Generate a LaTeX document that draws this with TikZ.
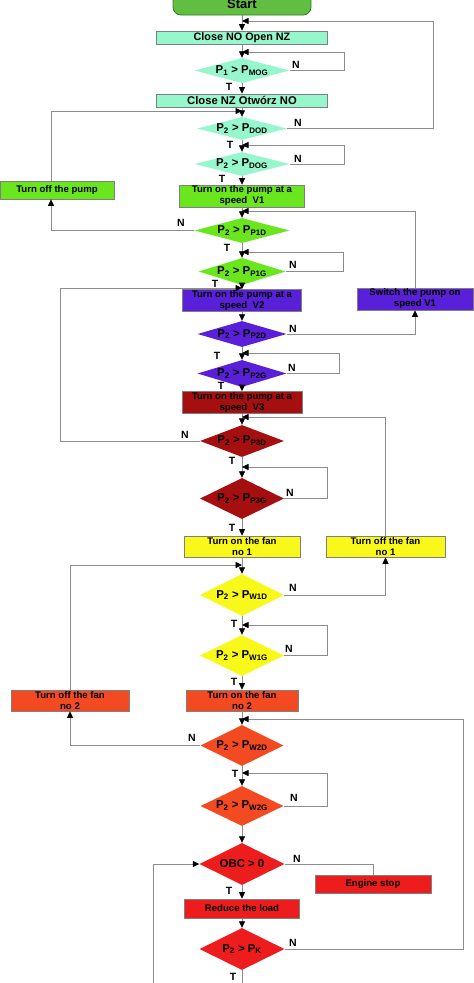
\documentclass[tikz,border=0pt]{standalone}
\usepackage{fontspec}
\setmainfont{Liberation Sans}
\usepackage{xcolor}
\usepackage{tikz}
\usetikzlibrary{arrows.meta,shapes.geometric}
\definecolor{fcAqua}{HTML}{96F7CD}
\definecolor{fcStart}{HTML}{62BE43}
\definecolor{fcStartEdge}{HTML}{2F7F20}
\definecolor{fcLime}{HTML}{6AE61E}
\definecolor{fcViolet}{HTML}{5A1FD8}
\definecolor{fcBrick}{HTML}{A50F0F}
\definecolor{fcYellow}{HTML}{F8F81A}
\definecolor{fcOrange}{HTML}{F44A22}
\definecolor{fcRed}{HTML}{EE1D1D}
\definecolor{fcEdge}{HTML}{7F7F7F}
\definecolor{fcLine}{HTML}{8C8C8C}
\newcommand{\ptest}[1]{P\textsubscript{2} > P\textsubscript{#1}}
\tikzset{
  fc diagram/.style={x=1pt, y=-1pt, font=\bfseries\fontsize{10.8}{11}\selectfont},
  fc box/.style={draw=fcEdge, line width=0.6pt, inner sep=1pt, align=center},
  fc small/.style={font=\bfseries\fontsize{9.6}{11}\selectfont},
  fc test/.style={diamond, inner sep=0pt, font=\bfseries\fontsize{11.4}{12}\selectfont},
  fc flow/.style={draw=fcLine, line width=0.8pt,
    -{Triangle[length=6.5pt,width=6pt,color=black]}},
  fc line/.style={draw=fcLine, line width=0.8pt},
  fc label/.style={font=\bfseries\fontsize{10.5}{11}\selectfont, inner sep=0pt}
}
\begin{document}
\begin{tikzpicture}[fc diagram]
\useasboundingbox (0,0) rectangle (474,983);
% valve block
\node[fc box, draw=fcStartEdge, fill=fcStart, rounded corners=8pt, line width=0.8pt,
  minimum width=138pt, minimum height=22pt, font=\bfseries\fontsize{13}{13}\selectfont] (start) at (242,4) {Start};
\node[fc box, fill=fcAqua, minimum width=171pt, minimum height=13pt] (closeno) at (242,37.5) {Close NO Open NZ};
\node[fc test, fill=fcAqua, aspect=3.8, minimum width=95pt, minimum height=25pt] (pmog) at (242,70.5) {P\textsubscript{1} > P\textsubscript{MOG}};
\node[fc box, fill=fcAqua, minimum width=171pt, minimum height=13pt, font=\bfseries\fontsize{11.2}{11}\selectfont] (closenz) at (242,100.5) {Close NZ Otwórz NO};
\node[fc test, fill=fcAqua, aspect=3.9, minimum width=90pt, minimum height=23pt] (pdod) at (242,128.5) {\ptest{DOD}};
\node[fc test, fill=fcAqua, aspect=3.9, minimum width=95pt, minimum height=24pt] (pdog) at (242,164) {\ptest{DOG}};
% pump block
\node[fc box, fc small, fill=fcLime, minimum width=125pt, minimum height=18pt] (pumpv1) at (242,196) {Turn on the pump at a\\speed\ \ V1};
\node[fc box, fc small, fill=fcLime, minimum width=114pt, minimum height=18pt] (pumpoff) at (57,190) {Turn off the pump};
\node[fc test, fill=fcLime, aspect=3.8, minimum width=95pt, minimum height=25pt] (pp1d) at (242,230.5) {\ptest{P1D}};
\node[fc test, fill=fcLime, aspect=3.2, minimum width=87pt, minimum height=27pt] (pp1g) at (242,271.5) {\ptest{P1G}};
\node[fc box, fc small, fill=fcViolet, minimum width=119pt, minimum height=19pt] (pumpv2) at (242,300.5) {Turn on the pump at a\\speed\ \ V2};
\node[fc box, fc small, fill=fcViolet, minimum width=116pt, minimum height=22pt] (pumpvx) at (415,299) {Switch the pump on\\speed V1};
\node[fc test, fill=fcViolet, aspect=3.4, minimum width=89pt, minimum height=26pt] (pp2d) at (242,334) {\ptest{P2D}};
\node[fc test, fill=fcViolet, aspect=3.3, minimum width=89pt, minimum height=27pt] (pp2g) at (242,373.5) {\ptest{P2G}};
\node[fc box, fc small, fill=fcBrick, minimum width=120pt, minimum height=19pt] (pumpv3) at (242,402.5) {Turn on the pump at a\\speed\ \ V3};
\node[fc test, fill=fcBrick, aspect=2.6, minimum width=84pt, minimum height=32pt] (pp3d) at (242,441) {\ptest{P3D}};
\node[fc test, fill=fcBrick, aspect=2.05, minimum width=84pt, minimum height=41pt] (pp3g) at (242,498.5) {\ptest{P3G}};
% fan block
\node[fc box, fc small, fill=fcYellow, minimum width=116pt, minimum height=21pt] (fan1on) at (242,546.5) {Turn on the fan\\no 1};
\node[fc box, fc small, fill=fcYellow, minimum width=119pt, minimum height=21pt] (fan1off) at (385.5,546.5) {Turn off the fan\\no 1};
\node[fc test, fill=fcYellow, aspect=2, minimum width=84pt, minimum height=42pt] (pw1d) at (242,595) {\ptest{W1D}};
\node[fc test, fill=fcYellow, aspect=2.05, minimum width=84pt, minimum height=41pt] (pw1g) at (242,655.5) {\ptest{W1G}};
\node[fc box, fc small, fill=fcOrange, minimum width=112pt, minimum height=21pt] (fan2on) at (242,700.5) {Turn on the fan\\no 2};
\node[fc box, fc small, fill=fcOrange, minimum width=118pt, minimum height=21pt] (fan2off) at (70,700.5) {Turn off the fan\\no 2};
\node[fc test, fill=fcOrange, aspect=2.02, minimum width=83pt, minimum height=41pt] (pw2d) at (242,745.5) {\ptest{W2D}};
\node[fc test, fill=fcOrange, aspect=2.07, minimum width=83pt, minimum height=40pt] (pw2g) at (242,806) {\ptest{W2G}};
% load block
\node[fc test, fill=fcRed, aspect=2.02, minimum width=85pt, minimum height=42pt] (obc) at (242,864) {OBC > 0};
\node[fc box, fc small, fill=fcRed, minimum width=116pt, minimum height=18pt] (engstop) at (373,884) {Engine stop};
\node[fc box, fc small, fill=fcRed, minimum width=115pt, minimum height=19pt] (reduce) at (242,908.5) {Reduce the load};
\node[fc test, fill=fcRed, aspect=2.02, minimum width=85pt, minimum height=42pt] (pk) at (242,949) {P\textsubscript{2} > P\textsubscript{K}};
% junctions on the main line
\coordinate (j start) at (242,21);
\coordinate (j mog) at (242,52);
\coordinate (j nz) at (242,111);
\coordinate (j dog) at (242,145);
\coordinate (j v1) at (242,211);
\coordinate (j p1g) at (242,252);
\coordinate (j v2) at (242,288);
\coordinate (j p2g) at (242,353);
\coordinate (j v3) at (242,417);
\coordinate (j p3g) at (242,467);
\coordinate (j w1d) at (242,565);
\coordinate (j w1g) at (242,625);
\coordinate (j w2d) at (242,719);
\coordinate (j w2g) at (242,773);
\coordinate (bot left) at (153,983);
\coordinate (bot pk) at (242,983);
% main line
\draw[fc flow] (start) -- (closeno);
\draw[fc flow] (closeno) -- (pmog);
\draw[fc flow] (pmog) -- (closenz);
\draw[fc flow] (closenz) -- (pdod);
\draw[fc flow] (pdod) -- (pdog);
\draw[fc flow] (pdog) -- (pumpv1);
\draw[fc flow] (pumpv1) -- (pp1d);
\draw[fc flow] (pp1d) -- (pp1g);
\draw[fc flow] (pp1g) -- (pumpv2);
\draw[fc flow] (pumpv2) -- (pp2d);
\draw[fc flow] (pp2d) -- (pp2g);
\draw[fc flow] (pp2g) -- (pumpv3);
\draw[fc flow] (pumpv3) -- (pp3d);
\draw[fc flow] (pp3d) -- (pp3g);
\draw[fc flow] (pp3g) -- (fan1on);
\draw[fc flow] (fan1on) -- (pw1d);
\draw[fc flow] (pw1d) -- (pw1g);
\draw[fc flow] (pw1g) -- (fan2on);
\draw[fc flow] (fan2on) -- (pw2d);
\draw[fc flow] (pw2d) -- (pw2g);
\draw[fc flow] (pw2g) -- (obc);
\draw[fc flow] (obc) -- (reduce);
\draw[fc flow] (reduce) -- (pk);
\draw[fc line] (pk) -- (bot pk);
% wait loops
\draw[fc flow] (pmog.east) -- (344,70.5) |- (j mog);
\draw[fc flow] (pdog.east) -- (344,164) |- (j dog);
\draw[fc flow] (pp1g.east) -- (343,271.5) |- (j p1g);
\draw[fc flow] (pp2g.east) -- (339,373.5) |- (j p2g);
\draw[fc flow] (pp3g.east) -- (327,498.5) |- (j p3g);
\draw[fc flow] (pw1g.east) -- (327,655.5) |- (j w1g);
\draw[fc flow] (pw2g.east) -- (327,806) |- (j w2g);
% branches
\draw[fc flow] (pdod.east) -- (433,128.5) |- (j start);
\draw[fc flow] (pp1d.west) -| ([xshift=-6pt]pumpoff.south);
\draw[fc flow] ([xshift=-6pt]pumpoff.north) |- (j nz);
\draw[fc flow] (pp2d.east) -| (pumpvx.south);
\draw[fc flow] (pumpvx.north) |- (j v1);
\draw[fc flow] (pp3d.west) -- (60,441) |- (j v2);
\draw[fc flow] (pw1d.east) -| (fan1off.south);
\draw[fc flow] (fan1off.north) |- (j v3);
\draw[fc flow] (pw2d.west) -| (fan2off.south);
\draw[fc flow] (fan2off.north) |- (j w1d);
\draw[fc line] (obc.east) -| (engstop.north);
\draw[fc flow] (pk.east) -- (463,949) |- (j w2d);
\draw[fc flow] (bot left) |- (obc.west);
% answers
\node[fc label] (n mog) at (296,64.5) {N};
\node[fc label] (t mog) at (229,87) {T};
\node[fc label] (n dod) at (298,123) {N};
\node[fc label] (t dod) at (230,145) {T};
\node[fc label] (n dog) at (298,159) {N};
\node[fc label] (t dog) at (222,179) {T};
\node[fc label] (n p1d) at (181,223) {N};
\node[fc label] (t p1d) at (227,248) {T};
\node[fc label] (n p1g) at (293,265) {N};
\node[fc label] (t p1g) at (215,284) {T};
\node[fc label] (n p2d) at (293,329) {N};
\node[fc label] (t p2d) at (217,356) {T};
\node[fc label] (n p2g) at (292,368) {N};
\node[fc label] (t p2g) at (221,385.5) {T};
\node[fc label] (n p3d) at (185,435) {N};
\node[fc label] (t p3d) at (232,461) {T};
\node[fc label] (n p3g) at (290,493) {N};
\node[fc label] (t p3g) at (232,528) {T};
\node[fc label] (n w1d) at (293,588) {N};
\node[fc label] (t w1d) at (234,624) {T};
\node[fc label] (n w1g) at (289,649) {N};
\node[fc label] (t w1g) at (234,682) {T};
\node[fc label] (n w2d) at (192,738) {N};
\node[fc label] (t w2d) at (235,774) {T};
\node[fc label] (n w2g) at (294,798) {N};
\node[fc label] (n obc) at (297,859) {N};
\node[fc label] (t obc) at (229,891) {T};
\node[fc label] (n pk) at (293,943) {N};
\node[fc label] (t pk) at (233,977) {T};
\end{tikzpicture}
\end{document}
